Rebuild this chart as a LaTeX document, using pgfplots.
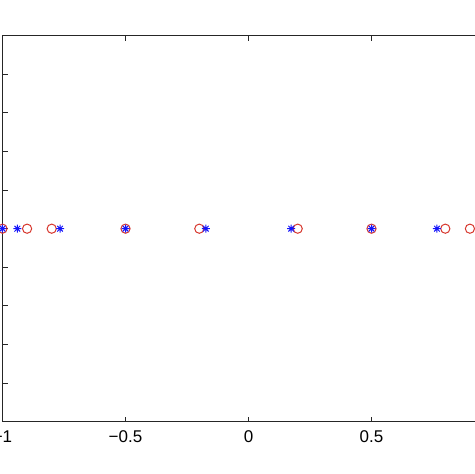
\documentclass[border=0pt]{standalone}
\usepackage{fontspec}
\setmainfont{Liberation Sans}
\usepackage{pgfplots}
\pgfplotsset{compat=1.18}

% MATLAB-style '*' marker: plus and cross together
\pgfdeclareplotmark{mstar}{%
  \pgfpathmoveto{\pgfqpoint{-\pgfplotmarksize}{0pt}}%
  \pgfpathlineto{\pgfqpoint{\pgfplotmarksize}{0pt}}%
  \pgfpathmoveto{\pgfqpoint{0pt}{-\pgfplotmarksize}}%
  \pgfpathlineto{\pgfqpoint{0pt}{\pgfplotmarksize}}%
  \pgfpathmoveto{\pgfqpoint{-.7071\pgfplotmarksize}{-.7071\pgfplotmarksize}}%
  \pgfpathlineto{\pgfqpoint{.7071\pgfplotmarksize}{.7071\pgfplotmarksize}}%
  \pgfpathmoveto{\pgfqpoint{-.7071\pgfplotmarksize}{.7071\pgfplotmarksize}}%
  \pgfpathlineto{\pgfqpoint{.7071\pgfplotmarksize}{-.7071\pgfplotmarksize}}%
  \pgfusepathqstroke}

\definecolor{mred}{RGB}{215,55,45}
\definecolor{mblue}{RGB}{20,20,250}

\begin{document}
\begin{tikzpicture}
    \begin{axis}[
        at={(0,0)}, anchor=south west,
        scale only axis,
        width=246pt, height=193pt,
        xmin=-1, xmax=1, ymin=-1, ymax=1,
        xtick={-1,-0.5,0,0.5,1},
        xticklabels={−1,−0.5,0,0.5,1},
        ytick={-1,-0.8,...,1.01},
        yticklabels={},
        tick align=inside,
        major tick length=2.5pt,
        axis line style={line width=0.6pt, black!85},
        every tick/.style={black!85, line width=0.5pt},
        tick label style={font=\fontsize{8.5}{10}\selectfont},
        xticklabel style={yshift=-1pt},
        clip=false,
    ]
    % nodes of one set (red circles)
    \addplot[only marks, mark=o, mark size=2.3pt, mred, line width=0.5pt] coordinates {
        (-1,0) (-0.9,0) (-0.8,0) (-0.5,0) (-0.2,0)
        (0.2,0) (0.5,0) (0.8,0) (0.9,0) (1,0)
    };
    % nodes of the other set (blue stars)
    \addplot[only marks, mark=mstar, mark size=2pt, mblue, line width=0.5pt] coordinates {
        (-1,0) (-0.9397,0) (-0.766,0) (-0.5,0) (-0.1736,0)
        (0.1736,0) (0.5,0) (0.766,0) (0.9397,0) (1,0)
    };
    \end{axis}
    \pgfresetboundingbox
    \path[use as bounding box] (-1.25pt,-26.15pt) rectangle (235.75pt,210.85pt);
\end{tikzpicture}
\end{document}
